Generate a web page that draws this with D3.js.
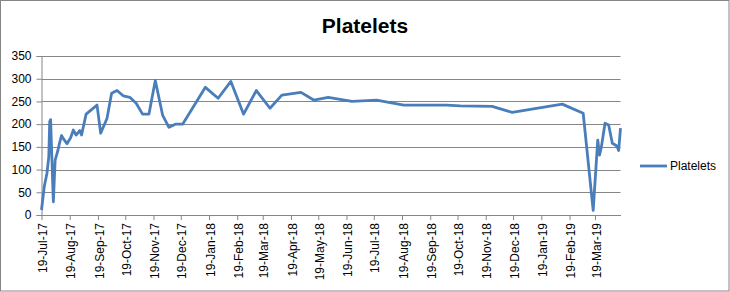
<!DOCTYPE html>
<html>
<head>
<meta charset="utf-8">
<script src="https://cdn.jsdelivr.net/npm/d3@7"></script>
<style>
  body { margin: 0; background: #fff; }
  svg { display: block; font-family: "Liberation Sans", Arial, sans-serif; }
</style>
</head>
<body>
<div id="chart"></div>
<script>
const dates = [
  "2017-07-19", "2017-07-22", "2017-07-25", "2017-07-27", "2017-07-28", "2017-07-29",
  "2017-08-01", "2017-08-03", "2017-08-05", "2017-08-06", "2017-08-08", "2017-08-10",
  "2017-08-12", "2017-08-16", "2017-08-20", "2017-08-23", "2017-08-26", "2017-08-30",
  "2017-09-01", "2017-09-06", "2017-09-18", "2017-09-22", "2017-09-29", "2017-10-04",
  "2017-10-10", "2017-10-17", "2017-10-24", "2017-10-31", "2017-11-07", "2017-11-14",
  "2017-11-21", "2017-11-29", "2017-12-06", "2017-12-13", "2017-12-21", "2018-01-15",
  "2018-01-29", "2018-02-12", "2018-02-26", "2018-03-12", "2018-03-27", "2018-04-09",
  "2018-04-30", "2018-05-14", "2018-05-30", "2018-06-25", "2018-07-22", "2018-08-21",
  "2018-10-07", "2018-10-22", "2018-11-26", "2018-12-18", "2019-02-11", "2019-03-06",
  "2019-03-17", "2019-03-22", "2019-03-24", "2019-03-26", "2019-03-30", "2019-04-03",
  "2019-04-07", "2019-04-12", "2019-04-14", "2019-04-16"
];
const platelets = [
  11, 62, 92, 128, 205, 210,
  29, 121, 135, 142, 160, 175,
  168, 157, 170, 187, 176, 186,
  176, 222, 242, 180, 213, 268,
  274, 262, 259, 246, 222, 222,
  296, 220, 193, 200, 200, 281,
  257, 294, 222, 274, 235, 264,
  270, 253, 259, 250, 253, 242,
  242, 240, 239, 226, 244, 224,
  10, 165, 132, 150, 202, 198,
  158, 152, 142, 191
];
const xTicks = [
  "2017-07-19", "2017-08-19", "2017-09-19", "2017-10-19", "2017-11-19", "2017-12-19",
  "2018-01-19", "2018-02-19", "2018-03-19", "2018-04-19", "2018-05-19", "2018-06-19",
  "2018-07-19", "2018-08-19", "2018-09-19", "2018-10-19", "2018-11-19", "2018-12-19",
  "2019-01-19", "2019-02-19", "2019-03-19"
];
const yTicks = [0, 50, 100, 150, 200, 250, 300, 350];

const width = 730;
const height = 292;
const marginLeft = 41.5;
const marginRight = 109.5;
const marginTop = 56;
const marginBottom = 77;
const grey = "#868686";

const parseDate = d3.utcParse("%Y-%m-%d");
const fmt = d3.utcFormat("%d-%b-%y");

const data = dates.map((d, i) => [parseDate(d), platelets[i]]);

const xScale = d3.scaleUtc()
  .domain(d3.extent(data, d => d[0]))
  .range([marginLeft, width - marginRight]);

const yScale = d3.scaleLinear()
  .domain([0, 350])
  .range([height - marginBottom, marginTop]);

const svg = d3.create("svg")
  .attr("width", width)
  .attr("height", height)
  .attr("viewBox", `0 0 ${width} ${height}`);

// chart border
svg.append("rect")
  .attr("x", 0.5).attr("y", 0.5)
  .attr("width", width - 1.5).attr("height", height - 1.5)
  .attr("fill", "#fff")
  .attr("stroke", grey);

svg.append("text")
  .attr("x", 365)
  .attr("y", 33)
  .attr("text-anchor", "middle")
  .style("font-size", "21px")
  .style("font-weight", "bold")
  .text("Platelets");

// gridlines
svg.append("g")
  .selectAll("line")
  .data(yTicks.slice(1))
  .join("line")
  .attr("x1", marginLeft)
  .attr("x2", width - marginRight)
  .attr("y1", d => Math.round(yScale(d)) + 0.5)
  .attr("y2", d => Math.round(yScale(d)) + 0.5)
  .attr("stroke", grey);

const yAxis = d3.axisLeft(yScale)
  .tickValues(yTicks)
  .tickSize(5)
  .tickPadding(5);

svg.append("g")
  .attr("transform", `translate(${marginLeft}, 0)`)
  .call(yAxis)
  .call(g => g.selectAll("line, path").attr("stroke", grey))
  .call(g => g.selectAll("text").style("font-size", "12px").attr("fill", "#000"));

const xAxis = d3.axisBottom(xScale)
  .tickValues(xTicks.map(parseDate))
  .tickFormat(fmt)
  .tickSize(5)
  .tickSizeOuter(0);

svg.append("g")
  .attr("transform", `translate(0, ${height - marginBottom})`)
  .call(xAxis)
  .call(g => g.selectAll("line, path").attr("stroke", grey))
  .call(g => g.selectAll("text")
    .style("font-size", "12px")
    .attr("fill", "#000")
    .attr("transform", "rotate(-90)")
    .attr("text-anchor", "end")
    .attr("x", -8)
    .attr("y", 1)
    .attr("dy", "0.35em"));

const line = d3.line()
  .x(d => xScale(d[0]))
  .y(d => yScale(d[1]));

svg.append("path")
  .datum(data)
  .attr("fill", "none")
  .attr("stroke", "#4a7ebb")
  .attr("stroke-width", 2.8)
  .attr("stroke-linejoin", "round")
  .attr("d", line);

// legend
svg.append("line")
  .attr("x1", 640).attr("x2", 667)
  .attr("y1", 166).attr("y2", 166)
  .attr("stroke", "#4a7ebb")
  .attr("stroke-width", 2.8);

svg.append("text")
  .attr("x", 670)
  .attr("y", 170)
  .style("font-size", "12px")
  .text("Platelets");

document.getElementById("chart").append(svg.node());
</script>
</body>
</html>
